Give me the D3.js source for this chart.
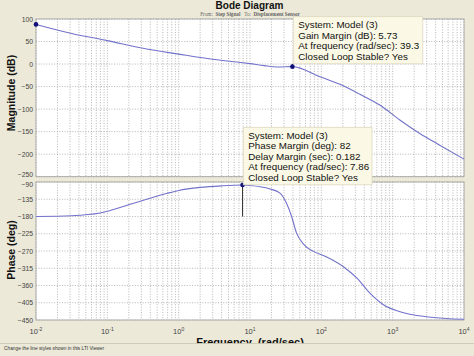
<!DOCTYPE html>
<html><head><meta charset="utf-8">
<script src="https://cdn.jsdelivr.net/npm/d3@7"></script>
<style>body{margin:0;background:#ece9d8;}svg{display:block;}</style>
</head><body>
<svg id="c" width="474" height="356"></svg>
<script>
// ---- data ----
const magFreq = [0.01, 0.0316, 0.1, 0.316, 1, 3.16, 7.94, 10, 15.8, 25, 39.3, 95.5, 182, 347, 661, 1260, 2400, 4570, 10000];
const magDb   = [88, 68, 52, 35, 22, 10, 3, 1, -3.5, -6.5, -5.73, -28, -45, -67, -91, -124, -154, -180, -211];
const phFreq  = [0.01, 0.0316, 0.0794, 0.229, 0.676, 1, 2, 4, 7.86, 10, 19, 26.3, 32.4, 38, 44.7, 56.2, 77.6, 117, 204, 316, 479, 741, 1150, 1740, 3160, 5620, 10000];
const phDeg   = [-180, -178, -171, -146, -120, -112, -104, -100, -98, -99, -108, -119, -145, -178, -222, -252, -271, -285, -311, -341, -380, -410, -426, -435, -442, -446, -448];
const magTicks = [100, 50, 0, -50, -100, -150, -200, -250];
const phTicks  = [-90, -135, -180, -225, -270, -315, -360, -405, -450];
const decadeExps = [-2, -1, 0, 1, 2, 3, 4];
const startPoint = {f: 0.01, db: 88};
const gmPoint = {f: 39.3, db: -5.73};
const pmPoint = {f: 7.86, deg: -98};
const tip1 = ["System: Model (3)", "Gain Margin (dB): 5.73", "At frequency (rad/sec): 39.3", "Closed Loop Stable? Yes"];
const tip2 = ["System: Model (3)", "Phase Margin (deg): 82", "Delay Margin (sec): 0.182", "At frequency (rad/sec): 7.86", "Closed Loop Stable? Yes"];

const svg = d3.select("#c");
const FONT = "Liberation Sans, Arial, sans-serif";
const L = 36, R = 464;
const x = d3.scaleLog().domain([0.01, 10000]).range([L, R]);
const yM = d3.scaleLinear().domain([-250, 100]).range([176.7, 19]);
const yP = d3.scaleLinear().domain([-450, -90]).range([320, 182]);

svg.append("rect").attr("width", 474).attr("height", 356).attr("fill", "#ece9d8");

function panel(y, ticks, edgeShift) {
  const [y0, y1] = y.range();
  const g = svg.append("g");
  g.append("rect").attr("x", L).attr("y", y1).attr("width", R - L).attr("height", y0 - y1)
    .attr("fill", "#ffffff");
  g.selectAll(".vg").data(x.ticks()).enter().append("line")
    .attr("x1", d => x(d)).attr("x2", d => x(d)).attr("y1", y1).attr("y2", y0)
    .attr("stroke", "#a4a4a4").attr("stroke-width", 0.8).attr("stroke-dasharray", "1,1.6");
  g.selectAll(".hg").data(ticks).enter().append("line")
    .attr("x1", L).attr("x2", R).attr("y1", d => y(d)).attr("y2", d => y(d))
    .attr("stroke", "#a4a4a4").attr("stroke-width", 0.8).attr("stroke-dasharray", "1,1.6");
  g.append("rect").attr("x", L).attr("y", y1).attr("width", R - L).attr("height", y0 - y1)
    .attr("fill", "none").attr("stroke", "#a0a0a0").attr("stroke-width", 0.8);
  const ax = d3.axisLeft(y).tickValues(ticks).tickSize(0).tickPadding(3);
  const ag = g.append("g").attr("transform", `translate(${L},0)`).call(ax);
  ag.select(".domain").remove();
  ag.selectAll("text").attr("font-family", FONT).attr("font-size", 6.8).attr("fill", "#444");
  edgeShift(ag);
  return g;
}
panel(yM, magTicks, ag => ag.selectAll(".tick").filter(d => d === -250).select("text").attr("dy", "-0.05em"));
panel(yP, phTicks, ag => ag.selectAll(".tick").filter(d => d === -90).select("text").attr("dy", "0.62em"));

const xl = svg.append("g");
decadeExps.forEach(e => {
  const t = xl.append("text").attr("x", x(Math.pow(10, e))).attr("y", 334)
    .attr("text-anchor", "middle").attr("font-family", FONT).attr("font-size", 7.5).attr("fill", "#444");
  t.append("tspan").text("10");
  t.append("tspan").attr("dy", -3.5).attr("font-size", 5).text(String(e));
});

const lineColor = "#7272cc";
const magLine = d3.line().x((d, i) => x(magFreq[i])).y(d => yM(d)).curve(d3.curveMonotoneX);
svg.append("path").attr("d", magLine(magDb)).attr("fill", "none").attr("stroke", lineColor).attr("stroke-width", 1.1);
const phLine = d3.line().x((d, i) => x(phFreq[i])).y(d => yP(d)).curve(d3.curveMonotoneX);
svg.append("path").attr("d", phLine(phDeg)).attr("fill", "none").attr("stroke", lineColor).attr("stroke-width", 1.1);

svg.append("line").attr("x1", x(gmPoint.f)).attr("x2", x(gmPoint.f)).attr("y1", yM(gmPoint.db)).attr("y2", yM(0))
  .attr("stroke", "#333").attr("stroke-width", 1);
svg.append("line").attr("x1", x(pmPoint.f)).attr("x2", x(pmPoint.f)).attr("y1", yP(pmPoint.deg)).attr("y2", yP(-180))
  .attr("stroke", "#333").attr("stroke-width", 1);
[[x(startPoint.f), yM(startPoint.db)], [x(gmPoint.f), yM(gmPoint.db)], [x(pmPoint.f), yP(pmPoint.deg)]].forEach(p => {
  svg.append("circle").attr("cx", p[0]).attr("cy", p[1]).attr("r", 2.3).attr("fill", "#10107a");
});

function tip(x0, y0, w, lines) {
  const g = svg.append("g");
  g.append("rect").attr("x", x0).attr("y", y0).attr("width", w).attr("height", lines.length * 10.4 + 5.5)
    .attr("fill", "#fbf9e5").attr("stroke", "#dcd8c0").attr("stroke-width", 0.8);
  lines.forEach((s, i) => {
    g.append("text").attr("x", x0 + 5).attr("y", y0 + 11.6 + i * 10.4)
      .attr("font-family", FONT).attr("font-size", 9.8).attr("fill", "#111").text(s);
  });
}
tip(293.3, 16.7, 129.5, tip1);
tip(243.3, 127.3, 128.7, tip2);

svg.append("text").attr("x", 249.5).attr("y", 9.3).attr("text-anchor", "middle")
  .attr("font-family", FONT).attr("font-weight", "bold").attr("font-size", 10).attr("fill", "#111").text("Bode Diagram");
const sub = svg.append("text").attr("x", 250).attr("y", 15.9).attr("text-anchor", "middle")
  .attr("font-family", "Liberation Serif, serif").attr("font-size", 5.2).attr("fill", "#666")
  .attr("xml:space", "preserve");
sub.append("tspan").text("From:  ");
sub.append("tspan").attr("font-weight", "bold").text("Step Signal");
sub.append("tspan").text("   To:  ");
sub.append("tspan").attr("font-weight", "bold").text("Displacement Sensor");

svg.append("text").attr("transform", "translate(14.5,93) rotate(-90)").attr("text-anchor", "middle")
  .attr("font-family", FONT).attr("font-weight", "bold").attr("font-size", 10.5).attr("fill", "#111").text("Magnitude (dB)");
svg.append("text").attr("transform", "translate(14.5,250) rotate(-90)").attr("text-anchor", "middle")
  .attr("font-family", FONT).attr("font-weight", "bold").attr("font-size", 10.5).attr("fill", "#111").text("Phase (deg)");
svg.append("text").attr("x", 250).attr("y", 346).attr("text-anchor", "middle").attr("xml:space", "preserve")
  .attr("font-family", FONT).attr("font-weight", "bold").attr("font-size", 11).attr("fill", "#111").text("Frequency  (rad/sec)");

svg.append("rect").attr("x", 0).attr("y", 343.5).attr("width", 474).attr("height", 12.5).attr("fill", "#ece9d8");
svg.append("line").attr("x1", 0).attr("x2", 474).attr("y1", 343.5).attr("y2", 343.5).attr("stroke", "#c8c4b0").attr("stroke-width", 0.8);
svg.append("text").attr("x", 4).attr("y", 349.5).attr("font-family", FONT).attr("font-size", 4.8).attr("fill", "#333")
  .text("Change the line styles shown in this LTI Viewer");
</script>
</body></html>
